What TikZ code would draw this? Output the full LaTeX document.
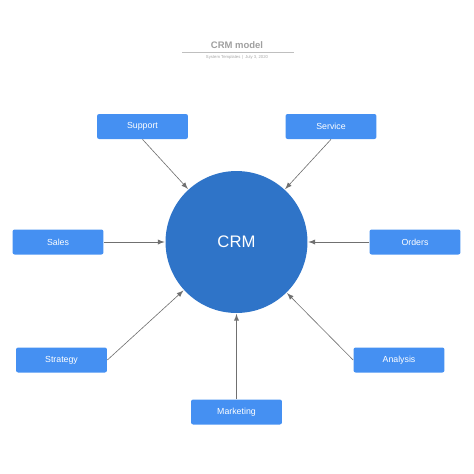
\documentclass[tikz,border=0pt]{standalone}
\usepackage{fontspec}
\setmainfont{Liberation Sans}
\usepackage{xcolor}
\usetikzlibrary{positioning}
\definecolor{boxblue}{HTML}{4590F2}
\definecolor{hubblue}{HTML}{2F74C8}
\definecolor{linegray}{HTML}{707070}

\begin{document}
\begin{tikzpicture}[x=0.02cm, y=-0.02cm, >=latex,
  block/.style={fill=boxblue, rounded corners=1.2pt, minimum width=1.82cm, minimum height=0.5cm,
    inner sep=0pt, text=white, font=\fontsize{5}{6}\selectfont},
  link/.style={->, draw=linegray, line width=0.35pt, shorten >=0.3pt}]
\useasboundingbox (0,0) rectangle (474,474);
% title
\node[text=gray!75, font=\fontsize{5.4}{6}\selectfont\bfseries] (title) at (237,45) {CRM model};
\coordinate (ruleL) at (182,52);
\coordinate (ruleR) at (294,52);
\draw[gray!50, line width=0.3pt] (ruleL) -- (ruleR);
\node[text=gray!70, font=\fontsize{2.4}{3}\selectfont] (sub) at (237,57) {System Templates \,|\, July 3, 2020};
% centre
\node[circle, fill=hubblue, minimum size=2.84cm, inner sep=0pt, text=white,
  font=\fontsize{9.5}{11}\selectfont] (crm) at (236.5,242) {CRM};
% surrounding boxes
\node[block] (support) at (142.5,126.5) {Support};
\node[block] (service) at (331,126.5) {Service};
\node[block] (sales) at (58,242) {Sales};
\node[block] (orders) at (415,242) {Orders};
\node[block] (strategy) at (61.5,360) {Strategy};
\node[block] (analysis) at (399,360) {Analysis};
\node[block] (marketing) at (236.5,412) {Marketing};
\draw[link] (support.south) -- (crm);
\draw[link] (service.south) -- (crm);
\draw[link] (sales.east) -- (crm);
\draw[link] (orders.west) -- (crm);
\draw[link] (strategy.east) -- (crm);
\draw[link] (analysis.west) -- (crm);
\draw[link] (marketing.north) -- (crm);
\end{tikzpicture}
\end{document}
